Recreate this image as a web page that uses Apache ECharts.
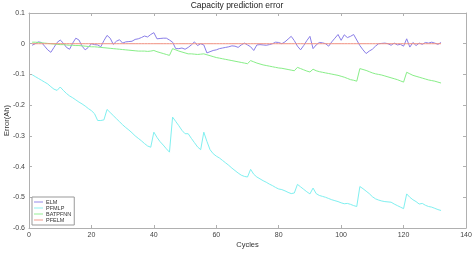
<!DOCTYPE html>
<html>
<head>
<meta charset="utf-8">
<script src="https://cdn.jsdelivr.net/npm/echarts@6/dist/echarts.min.js"></script>
<style>html,body{margin:0;padding:0;background:#fff}#c{width:474px;height:253px}</style>
</head>
<body>
<div id="c"></div>
<script>
const cycles = Array.from({length:132}, (_, i) => i + 1);
const seriesNames = ['ELM', 'PFMLP', 'BATPFNN', 'PFELM'];
const xTicks = [0, 20, 40, 60, 80, 100, 120, 140];
const yTicks = [0.1, 0, -0.1, -0.2, -0.3, -0.4, -0.5, -0.6];

const elm = [-0.005,0.000,0.006,0.004,-0.008,-0.020,-0.028,-0.012,0.004,0.012,
0.002,-0.012,-0.018,0.002,0.018,0.012,-0.008,-0.020,-0.012,0.000,
-0.003,-0.004,-0.010,0.010,0.027,0.018,-0.002,0.008,0.013,0.002,
0.006,0.007,0.008,0.014,0.016,0.020,0.025,0.022,0.030,0.036,
0.016,0.017,0.018,0.018,0.012,0.005,-0.016,-0.016,-0.014,-0.018,
-0.012,-0.004,0.006,-0.006,0.000,-0.004,-0.030,-0.026,-0.022,-0.020,
-0.016,-0.014,-0.012,-0.010,-0.007,-0.008,-0.012,-0.004,0.002,-0.004,
-0.010,-0.022,-0.004,-0.003,-0.004,-0.005,-0.003,0.000,0.005,0.004,
0.000,0.006,0.015,0.024,0.010,-0.008,-0.020,-0.006,0.010,0.024,
-0.016,-0.004,0.004,0.003,0.000,-0.008,0.006,0.018,0.030,0.011,
0.029,0.020,0.024,0.030,0.012,-0.006,-0.020,-0.032,-0.024,-0.018,
-0.008,0.000,0.001,0.002,0.000,-0.005,0.002,-0.004,-0.002,-0.008,
0.016,-0.011,0.004,-0.006,0.002,-0.002,0.004,0.002,0.005,0.002,
-0.002,0.004];

const pfmlp = [-0.101,-0.107,-0.113,-0.119,-0.125,-0.131,-0.140,-0.148,-0.152,-0.141,
-0.152,-0.162,-0.170,-0.176,-0.183,-0.190,-0.196,-0.203,-0.211,-0.218,
-0.228,-0.250,-0.250,-0.248,-0.214,-0.224,-0.234,-0.244,-0.254,-0.264,
-0.273,-0.281,-0.290,-0.300,-0.308,-0.316,-0.325,-0.333,-0.337,-0.288,
-0.305,-0.319,-0.330,-0.342,-0.353,-0.239,-0.253,-0.267,-0.282,-0.293,
-0.293,-0.308,-0.322,-0.336,-0.345,-0.288,-0.318,-0.345,-0.358,-0.366,
-0.372,-0.380,-0.388,-0.396,-0.405,-0.413,-0.421,-0.428,-0.432,-0.434,
-0.409,-0.425,-0.434,-0.440,-0.446,-0.451,-0.457,-0.462,-0.468,-0.473,
-0.475,-0.479,-0.484,-0.488,-0.486,-0.458,-0.466,-0.474,-0.482,-0.489,
-0.470,-0.488,-0.494,-0.497,-0.500,-0.504,-0.508,-0.511,-0.514,-0.518,
-0.521,-0.520,-0.523,-0.527,-0.530,-0.465,-0.472,-0.480,-0.488,-0.498,
-0.505,-0.509,-0.512,-0.514,-0.515,-0.516,-0.522,-0.527,-0.532,-0.537,
-0.489,-0.500,-0.508,-0.514,-0.522,-0.520,-0.526,-0.530,-0.532,-0.536,
-0.540,-0.543];

const batpfnn = [0.005,0.005,0.004,0.003,0.002,0.001,0.000,-0.001,-0.002,-0.003,
-0.003,-0.004,-0.005,-0.005,-0.006,-0.006,-0.007,-0.008,-0.009,-0.010,
-0.010,-0.011,-0.012,-0.013,-0.014,-0.015,-0.016,-0.017,-0.018,-0.019,
-0.020,-0.021,-0.022,-0.023,-0.024,-0.024,-0.024,-0.025,-0.024,-0.022,
-0.026,-0.029,-0.032,-0.035,-0.038,-0.016,-0.020,-0.024,-0.027,-0.030,
-0.033,-0.033,-0.034,-0.035,-0.034,-0.033,-0.036,-0.039,-0.042,-0.045,
-0.047,-0.049,-0.051,-0.053,-0.055,-0.057,-0.059,-0.061,-0.063,-0.065,
-0.055,-0.059,-0.063,-0.066,-0.069,-0.071,-0.073,-0.075,-0.077,-0.079,
-0.080,-0.082,-0.084,-0.086,-0.088,-0.077,-0.081,-0.085,-0.089,-0.092,
-0.083,-0.088,-0.091,-0.093,-0.095,-0.097,-0.099,-0.101,-0.103,-0.106,
-0.109,-0.113,-0.117,-0.119,-0.122,-0.081,-0.084,-0.087,-0.091,-0.095,
-0.098,-0.100,-0.102,-0.105,-0.108,-0.111,-0.114,-0.117,-0.121,-0.125,
-0.093,-0.098,-0.103,-0.106,-0.109,-0.112,-0.115,-0.118,-0.120,-0.122,
-0.125,-0.128];

const pfelm = cycles.map(() => 0.000);

const colors = ['#8a7ee8', '#80f0f0', '#88ee88', '#f0907f'];
const allData = [elm, pfmlp, batpfnn, pfelm];

const fmt = v => { const r = Math.round(v * 10) / 10; return r === 0 ? '0' : String(r); };

const axisLineStyle = { color: '#b0b0b0', width: 1 };
const chart = echarts.init(document.getElementById('c'), null, { renderer: 'canvas' });
chart.setOption({
  animation: false,
  backgroundColor: '#fff',
  title: {
    text: 'Capacity prediction error', left: 'center', top: 1, padding: 0,
    textStyle: { fontSize: 8.5, fontWeight: 'normal', color: '#222', fontFamily: 'Liberation Sans' }
  },
  legend: {
    orient: 'vertical', left: 32, top: 197, itemGap: 0, padding: [2, 3, 2, 2],
    itemWidth: 9, itemHeight: 6, borderColor: '#999', borderWidth: 1, backgroundColor: '#fff',
    textStyle: { fontSize: 5.5, color: '#333', fontFamily: 'Liberation Sans', padding: [0, 0, 0, -2] },
    icon: 'path://M0,5 L10,5 L10,6 L0,6 Z',
    data: seriesNames
  },
  grid: { left: 29, right: 8, top: 13, bottom: 25, containLabel: false, outerBoundsMode: 'none' },
  xAxis: [{
    type: 'value', min: xTicks[0], max: xTicks[xTicks.length - 1], interval: 20, position: 'bottom',
    name: 'Cycles', nameLocation: 'middle', nameGap: 13, nameMoveOverlap: false,
    nameTextStyle: { fontSize: 7.5, color: '#333', fontFamily: 'Liberation Sans' },
    axisLine: { show: true, onZero: false, lineStyle: axisLineStyle },
    axisTick: { show: true, inside: true, length: 3, lineStyle: axisLineStyle },
    axisLabel: { fontSize: 7, color: '#444', margin: 4, fontFamily: 'Liberation Sans' },
    splitLine: { show: false }
  }, {
    type: 'value', min: 0, max: 140, interval: 20, position: 'top',
    axisLine: { show: true, onZero: false, lineStyle: axisLineStyle },
    axisTick: { show: true, inside: true, length: 3, lineStyle: axisLineStyle },
    axisLabel: { show: false }, splitLine: { show: false }
  }],
  yAxis: [{
    type: 'value', min: yTicks[yTicks.length - 1], max: yTicks[0], interval: 0.1, position: 'left',
    name: 'Error(Ah)', nameLocation: 'middle', nameGap: 18, nameRotate: 90, nameMoveOverlap: false,
    nameTextStyle: { fontSize: 7.5, color: '#333', fontFamily: 'Liberation Sans' },
    axisLine: { show: true, onZero: false, lineStyle: axisLineStyle },
    axisTick: { show: true, inside: true, length: 3, lineStyle: axisLineStyle },
    axisLabel: { fontSize: 7, color: '#444', margin: 4, formatter: fmt, fontFamily: 'Liberation Sans' },
    splitLine: { show: false }
  }, {
    type: 'value', min: -0.6, max: 0.1, interval: 0.1, position: 'right',
    axisLine: { show: true, onZero: false, lineStyle: axisLineStyle },
    axisTick: { show: true, inside: true, length: 3, lineStyle: axisLineStyle },
    axisLabel: { show: false }, splitLine: { show: false }
  }],
  series: seriesNames.map((n, k) => ({
    name: n, type: 'line', xAxisIndex: 0, yAxisIndex: 0,
    data: cycles.map((c, i) => [c, allData[k][i]]),
    showSymbol: false, symbol: 'none',
    lineStyle: { width: 1, color: colors[k] }, itemStyle: { color: colors[k] }
  }))
});
</script>
</body>
</html>
